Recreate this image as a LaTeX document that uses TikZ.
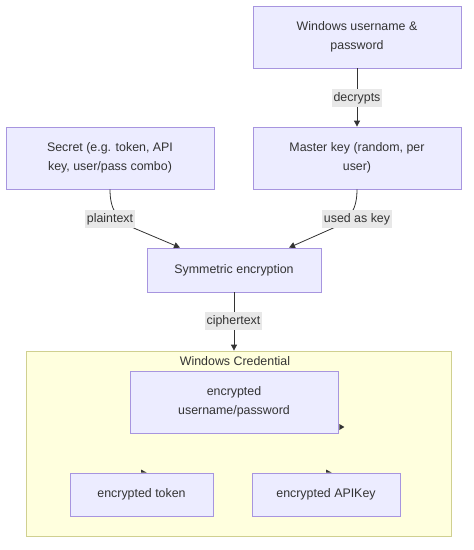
\documentclass[tikz,border=0pt]{standalone}
\usepackage{fontspec}
\setmainfont{Liberation Sans}
\usetikzlibrary{arrows.meta}
\definecolor{nfill}{HTML}{ECECFF}
\definecolor{nline}{HTML}{A795DF}
\definecolor{cfill}{HTML}{FFFFDE}
\definecolor{cline}{HTML}{D0D090}
\definecolor{ink}{HTML}{333333}
\definecolor{lblbg}{HTML}{E8E8E8}
\tikzset{
  box/.style={draw=nline, fill=nfill, line width=0.8pt, align=center, text=ink,
    font=\fontsize{12.4}{19}\selectfont, inner sep=0pt},
  lbl/.style={fill=lblbg, text=ink, font=\fontsize{12.4}{14}\selectfont, inner xsep=1.5pt, inner ysep=3pt},
  edge/.style={draw=ink, line width=0.8pt, -{Triangle[length=6pt,width=6pt]}},
}
\begin{document}
\begin{tikzpicture}[x=1pt,y=-1pt]
\fill[white] (0,0) rectangle (474,550);
\useasboundingbox (0,0) rectangle (474,550);
% cluster
\node[draw=cline, fill=cfill, line width=0.8pt, minimum width=425pt, minimum height=185pt, inner sep=0pt] (cred) at (238.5,443.5) {};
\node[text=ink, font=\fontsize{12.4}{14}\selectfont] (credlbl) at (235,361) {Windows Credential};
% nodes
\node[box, minimum width=208pt, minimum height=62pt] (win) at (357,37) {Windows username \&\\password};
\node[box, minimum width=208pt, minimum height=62pt] (master) at (357,158) {Master key (random, per\\user)};
\node[box, minimum width=208pt, minimum height=62pt] (secret) at (110,158) {Secret (e.g. token, API\\key, user/pass combo)};
\node[box, minimum width=174pt, minimum height=44pt] (sym) at (234,270) {Symmetric encryption};
\node[box, minimum width=208pt, minimum height=62pt] (encup) at (234,402) {encrypted\\username/password};
\node[box, minimum width=143pt, minimum height=43pt] (tok) at (141.5,494.5) {encrypted token};
\node[box, minimum width=148pt, minimum height=43pt] (api) at (326,494.5) {encrypted APIKey};
% anchors for edges
\coordinate (symL) at ([xshift=-54pt]sym.north);
\coordinate (symR) at ([xshift=55pt]sym.north);
\coordinate (credTop) at (sym.south |- cred.north);
% edges
\draw[edge] (secret.south) .. controls (110,208) and (116,221) .. (136,229) -- (symL);
\draw[edge] (master.south) .. controls (357,208) and (351,221) .. (331,229) -- (symR);
\draw[edge] (win.south) -- (master.north);
\draw[edge] (sym.south) -- (credTop);
% edge labels
\node[lbl] (l1) at (357,98) {decrypts};
\node[lbl] (l2) at (110,219) {plaintext};
\node[lbl] (l3) at (357,219) {used as key};
\node[lbl] (l4) at (233.5,321) {ciphertext};
% stray arrowheads
\fill[ink] ([xshift=1pt,yshift=-3pt]encup.east |- 0,421) -- ++(0,6) -- ++(5,-3) -- cycle;
\fill[ink] (141,469.5) -- (141,472.5) -- (146.5,472.5) -- cycle;
\fill[ink] (326,469.5) -- (326,472.5) -- (331.5,472.5) -- cycle;
\end{tikzpicture}
\end{document}
